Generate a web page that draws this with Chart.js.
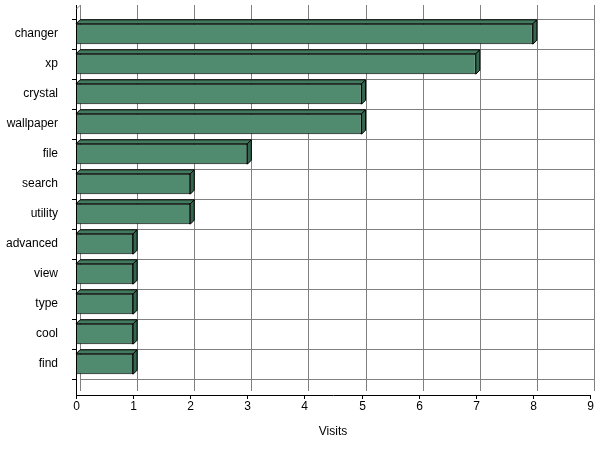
<!DOCTYPE html>
<html>
<head>
<meta charset="utf-8">
<script src="https://cdn.jsdelivr.net/npm/chart.js@4"></script>
<style>body{margin:0;background:#fff}#wrap{width:600px;height:454px}</style>
</head>
<body>
<div id="wrap"><canvas id="c"></canvas></div>
<script>
const categories = ['changer', 'xp', 'crystal', 'wallpaper', 'file', 'search', 'utility', 'advanced', 'view', 'type', 'cool', 'find'];
const visits = [8, 7, 5, 5, 3, 2, 2, 1, 1, 1, 1, 1];
const xTicks = [0, 1, 2, 3, 4, 5, 6, 7, 8, 9];

const D = 4; // depth offset
const FONT = '12px "Liberation Sans", Arial, sans-serif';

// Grid, axes and the 3D faces of the bars
const look3d = {
    id: 'look3d',
    beforeDatasetsDraw(chart) {
        const ctx = chart.ctx, x = chart.scales.x, y = chart.scales.y;
        const top = 5, bottom = 395, left = x.left;
        ctx.save();
        ctx.lineWidth = 1;
        ctx.strokeStyle = '#808080';
        xTicks.forEach(v => {
            const px = Math.round(x.getPixelForValue(v)) + D + 0.5;
            ctx.beginPath(); ctx.moveTo(px, top); ctx.lineTo(px, bottom - D); ctx.stroke();
        });
        for (let i = 0; i <= categories.length; i++) {
            const py = Math.round(y.getPixelForValue(i - 0.5)) + 0.5;
            ctx.beginPath(); ctx.moveTo(left + D, py); ctx.lineTo(x.right + D, py); ctx.stroke();
        }
        // axes
        ctx.strokeStyle = '#000';
        ctx.beginPath(); ctx.moveTo(left + 0.5, top); ctx.lineTo(left + 0.5, bottom + 0.5); ctx.lineTo(x.right + 0.5, bottom + 0.5); ctx.stroke();
        ctx.strokeStyle = '#808080';
        ctx.beginPath(); ctx.moveTo(left + 0.5, top + D); ctx.lineTo(left + D + 0.5, top); ctx.stroke();
        ctx.strokeStyle = '#000';
        for (let i = 0; i <= categories.length; i++) {
            const py = Math.round(y.getPixelForValue(i - 0.5)) + 0.5;
            ctx.beginPath(); ctx.moveTo(left - 4, py); ctx.lineTo(left, py); ctx.stroke();
        }
        ctx.fillStyle = '#000';
        ctx.font = FONT;
        ctx.textAlign = 'center';
        ctx.textBaseline = 'top';
        xTicks.forEach(v => {
            const px = Math.round(x.getPixelForValue(v)) + 0.5;
            ctx.beginPath(); ctx.moveTo(px, bottom); ctx.lineTo(px, bottom + 4); ctx.stroke();
            ctx.fillText(String(v), px, 401);
        });
        ctx.fillText('Visits', (x.left + x.right) / 2, 426);
        ctx.restore();
    },
    afterDatasetsDraw(chart) {
        const ctx = chart.ctx;
        ctx.save();
        ctx.strokeStyle = '#000';
        ctx.lineWidth = 1;
        chart.getDatasetMeta(0).data.forEach(bar => {
            const { x, y, base, height } = bar.getProps(['x', 'y', 'base', 'height'], true);
            const t = y - height / 2, b = y + height / 2;
            ctx.fillStyle = '#427a5e';
            ctx.beginPath();
            ctx.moveTo(base, t); ctx.lineTo(base + D, t - D); ctx.lineTo(x + D, t - D); ctx.lineTo(x, t); ctx.closePath();
            ctx.fill(); ctx.stroke();
            ctx.fillStyle = '#356650';
            ctx.beginPath();
            ctx.moveTo(x, t); ctx.lineTo(x + D, t - D); ctx.lineTo(x + D, b - D); ctx.lineTo(x, b); ctx.closePath();
            ctx.fill(); ctx.stroke();
        });
        ctx.restore();
    }
};

new Chart(document.getElementById('c'), {
    type: 'bar',
    data: {
        labels: categories,
        datasets: [{
            label: 'Visits',
            data: visits,
            backgroundColor: '#508b70',
            borderColor: '#000',
            borderWidth: 1,
            borderSkipped: false,
            barPercentage: 0.68,
            categoryPercentage: 1
        }]
    },
    options: {
        indexAxis: 'y',
        responsive: true,
        maintainAspectRatio: false,
        animation: false,
        layout: { padding: { top: 19, bottom: 75, right: 10, left: 0 } },
        plugins: { legend: { display: false }, tooltip: { enabled: false } },
        scales: {
            x: { display: false, min: 0, max: 9 },
            y: {
                grid: { display: false },
                border: { display: false },
                afterFit(s) { s.width = 76; },
                ticks: { color: '#000', font: { family: '"Liberation Sans", Arial, sans-serif', size: 12 }, padding: 10 }
            }
        }
    },
    plugins: [look3d]
});
</script>
</body>
</html>
